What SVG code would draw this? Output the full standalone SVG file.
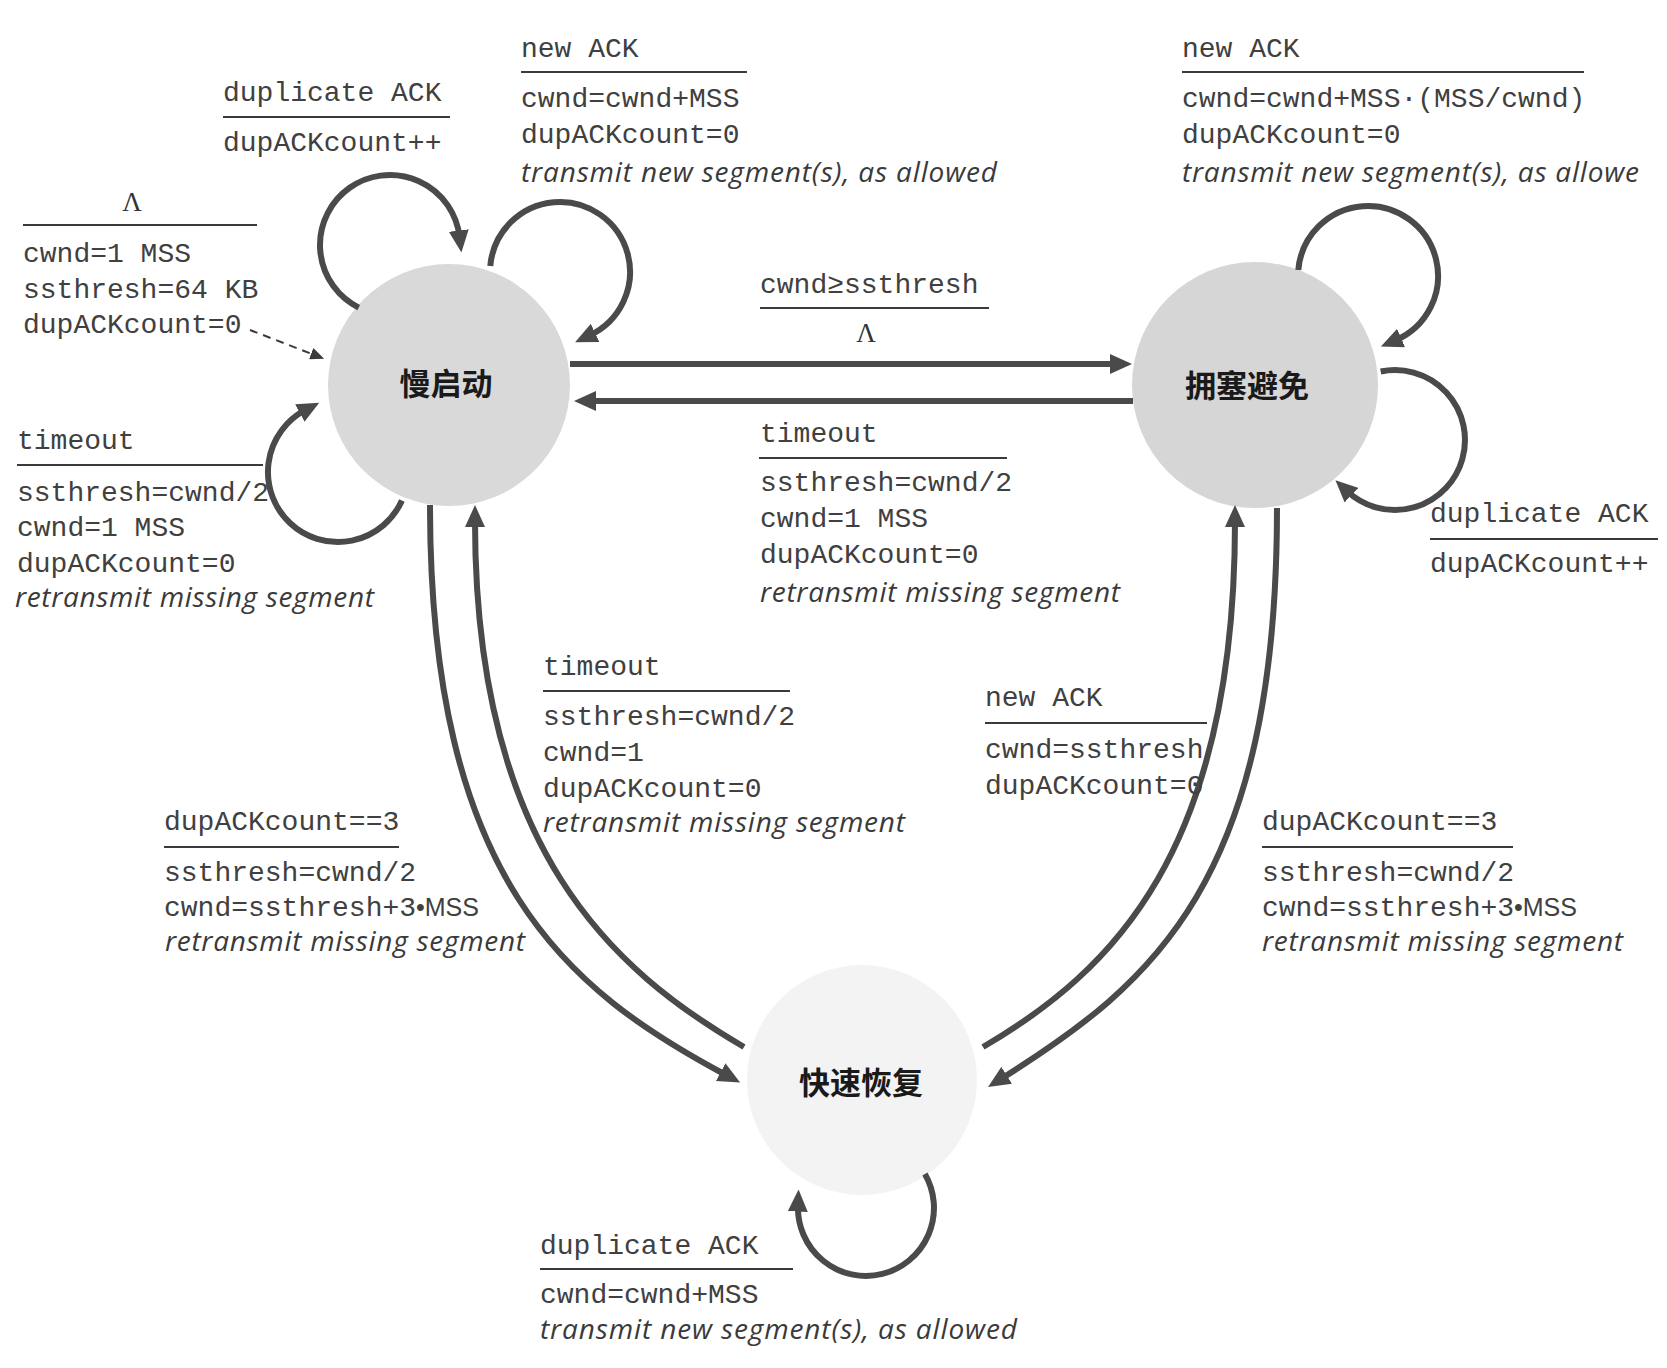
<svg xmlns="http://www.w3.org/2000/svg" width="1667" height="1368" viewBox="0 0 1667 1368">
<defs>
<style>
.m{font-family:"Liberation Mono","DejaVu Sans Mono",monospace;font-size:28px;fill:#404040}
.i{font-family:"Open Sans","Liberation Sans",sans-serif;font-style:italic;font-size:28px;fill:#3a3a3a}
.s{font-family:"Liberation Sans",sans-serif;font-size:25px}
.lam{font-family:"Liberation Serif",serif;font-size:27px;fill:#333;text-anchor:middle}
.u{stroke:#3a3a3a;stroke-width:2}
.c{fill:none;stroke:#4a4a4a;stroke-width:6;marker-end:url(#ah)}
.d{fill:none;stroke:#3a3a3a;stroke-width:2;stroke-dasharray:8 6;marker-end:url(#ah2)}
.n text{font-family:"Noto Sans CJK SC",sans-serif;font-weight:bold;font-size:31px;fill:#1a1a1a;text-anchor:middle}
</style>
<marker id="ah" markerUnits="userSpaceOnUse" markerWidth="22" markerHeight="20" viewBox="0 0 22 20" refX="6" refY="10" orient="auto">
<path d="M0,0 L22,10 L0,20 z" fill="#4a4a4a"/>
</marker>
<marker id="ah2" markerUnits="userSpaceOnUse" markerWidth="14" markerHeight="12" viewBox="0 0 14 12" refX="2" refY="6" orient="auto">
<path d="M0,0 L14,6 L0,12 z" fill="#3a3a3a"/>
</marker>
</defs>
<rect width="1667" height="1368" fill="#ffffff"/>

<g id="slow-start" class="n">
<circle cx="449" cy="385" r="121" fill="#d9d9d9"/>
<text x="446" y="395">慢启动</text>
</g>
<g id="congestion-avoidance" class="n">
<circle cx="1255" cy="385" r="123" fill="#d6d6d6"/>
<text x="1247" y="397">拥塞避免</text>
</g>
<g id="fast-recovery" class="n">
<circle cx="862" cy="1080" r="115" fill="#f3f3f3"/>
<text x="861" y="1094">快速恢复</text>
</g>

<g id="connectors">
<path class="d" d="M250 330 L313 354.4"/>
<path class="c" d="M358.7 307.6 A70 70 0 1 1 459.5 236.5"/>
<path class="c" d="M490.3 265.9 A70 70 0 1 1 589.6 335.4"/>
<path class="c" d="M401.9 500.5 A70 70 0 1 1 305.1 410.2"/>
<path class="c" d="M1298.3 269.9 A70 70 0 1 1 1395.6 340.3"/>
<path class="c" d="M1380.7 371.5 A70 70 0 1 1 1347.1 491.1"/>
<path class="c" d="M924.9 1174 A68 68 0 1 1 798 1205.6"/>
<path class="c" d="M570 364 L1116 364"/>
<path class="c" d="M1133 401 L590 401"/>
<path class="c" d="M430 505 C430 880 567 990 726 1075"/>
<path class="c" d="M744 1047 C614 971 475 851 475 521"/>
<path class="c" d="M983 1047 C1113 971 1235 851 1235 521"/>
<path class="c" d="M1277 508 C1277 880 1154 983 1001.6 1078.5"/>
</g>

<g id="labels">
<g id="lbl-init">
<text class="lam" x="132" y="211">Λ</text>
<line class="u" x1="23" y1="225" x2="257" y2="225"/>
<text class="m" x="23" y="262">cwnd=1 MSS</text>
<text class="m" x="23" y="298">ssthresh=64 KB</text>
<text class="m" x="23" y="333">dupACKcount=0</text>
</g>
<g id="lbl-ss-dup">
<text class="m" x="223" y="101">duplicate ACK</text>
<line class="u" x1="223" y1="117" x2="450" y2="117"/>
<text class="m" x="223" y="151">dupACKcount++</text>
</g>
<g id="lbl-ss-new">
<text class="m" x="521" y="57">new ACK</text>
<line class="u" x1="521" y1="72" x2="747" y2="72"/>
<text class="m" x="521" y="107">cwnd=cwnd+MSS</text>
<text class="m" x="521" y="143">dupACKcount=0</text>
<text class="i" x="521" y="182" textLength="476">transmit new segment(s), as allowed</text>
</g>
<g id="lbl-ca-new">
<text class="m" x="1182" y="57">new ACK</text>
<line class="u" x1="1182" y1="72" x2="1584" y2="72"/>
<text class="m" x="1182" y="107">cwnd=cwnd+MSS·(MSS/cwnd)</text>
<text class="m" x="1182" y="143">dupACKcount=0</text>
<text class="i" x="1182" y="182" textLength="457">transmit new segment(s), as allowe</text>
</g>
<g id="lbl-ss-ca">
<text class="m" x="760" y="293">cwnd≥ssthresh</text>
<line class="u" x1="760" y1="308" x2="989" y2="308"/>
<text class="lam" x="866" y="342">Λ</text>
</g>
<g id="lbl-ca-ss">
<text class="m" x="760" y="442">timeout</text>
<line class="u" x1="759" y1="458" x2="1007" y2="458"/>
<text class="m" x="760" y="491">ssthresh=cwnd/2</text>
<text class="m" x="760" y="527">cwnd=1 MSS</text>
<text class="m" x="760" y="563">dupACKcount=0</text>
<text class="i" x="760" y="602" textLength="360">retransmit missing segment</text>
</g>
<g id="lbl-ss-timeout">
<text class="m" x="17" y="449">timeout</text>
<line class="u" x1="17" y1="465" x2="263" y2="465"/>
<text class="m" x="17" y="501">ssthresh=cwnd/2</text>
<text class="m" x="17" y="536">cwnd=1 MSS</text>
<text class="m" x="17" y="572">dupACKcount=0</text>
<text class="i" x="15" y="607" textLength="359">retransmit missing segment</text>
</g>
<g id="lbl-ca-dup">
<text class="m" x="1430" y="522">duplicate ACK</text>
<line class="u" x1="1430" y1="539" x2="1658" y2="539"/>
<text class="m" x="1430" y="572">dupACKcount++</text>
</g>
<g id="lbl-fr-ss">
<text class="m" x="543" y="675">timeout</text>
<line class="u" x1="543" y1="691" x2="790" y2="691"/>
<text class="m" x="543" y="725">ssthresh=cwnd/2</text>
<text class="m" x="543" y="761">cwnd=1</text>
<text class="m" x="543" y="797">dupACKcount=0</text>
<text class="i" x="543" y="832" textLength="362">retransmit missing segment</text>
</g>
<g id="lbl-ss-fr">
<text class="m" x="164" y="830">dupACKcount==3</text>
<line class="u" x1="164" y1="847" x2="399" y2="847"/>
<text class="m" x="164" y="881">ssthresh=cwnd/2</text>
<text class="m" x="164" y="916">cwnd=ssthresh+3<tspan class="s">•MSS</tspan></text>
<text class="i" x="165" y="951" textLength="360">retransmit missing segment</text>
</g>
<g id="lbl-fr-ca">
<text class="m" x="985" y="706">new ACK</text>
<line class="u" x1="985" y1="723" x2="1207" y2="723"/>
<text class="m" x="985" y="758">cwnd=ssthresh</text>
<text class="m" x="985" y="794">dupACKcount=0</text>
</g>
<g id="lbl-ca-fr">
<text class="m" x="1262" y="830">dupACKcount==3</text>
<line class="u" x1="1262" y1="847" x2="1513" y2="847"/>
<text class="m" x="1262" y="881">ssthresh=cwnd/2</text>
<text class="m" x="1262" y="916">cwnd=ssthresh+3<tspan class="s">•MSS</tspan></text>
<text class="i" x="1262" y="951" textLength="361">retransmit missing segment</text>
</g>
<g id="lbl-fr-dup">
<text class="m" x="540" y="1254">duplicate ACK</text>
<line class="u" x1="540" y1="1269" x2="793" y2="1269"/>
<text class="m" x="540" y="1303">cwnd=cwnd+MSS</text>
<text class="i" x="540" y="1339" textLength="477">transmit new segment(s), as allowed</text>
</g>
</g>
</svg>
